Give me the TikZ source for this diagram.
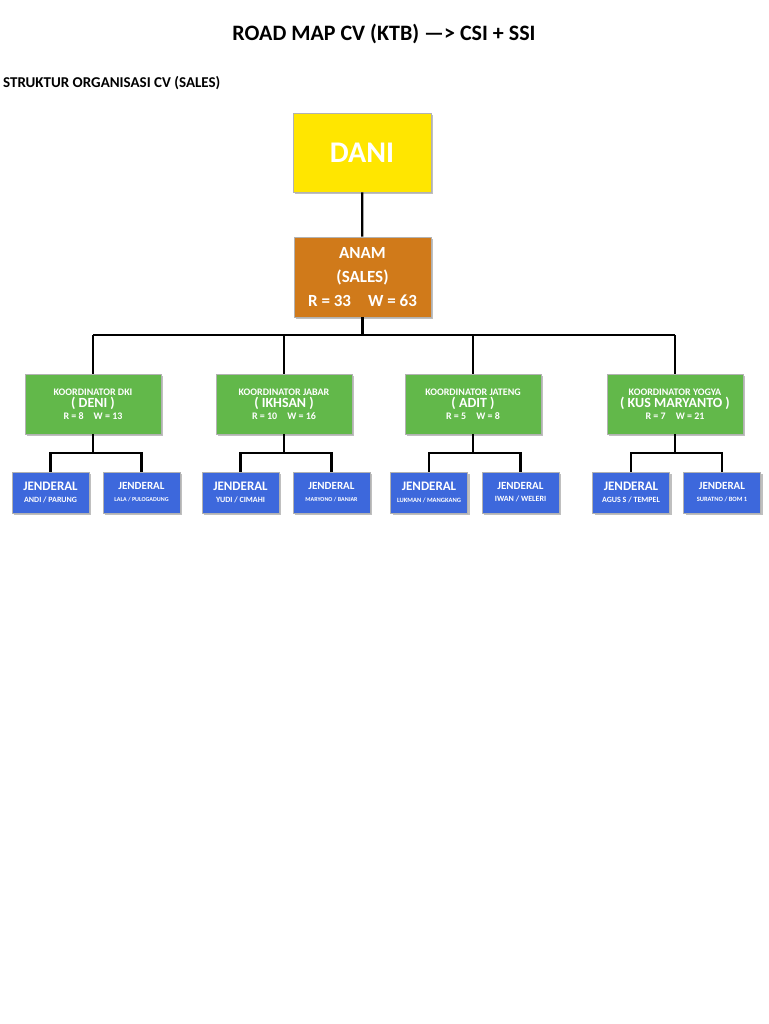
\documentclass[tikz,border=0pt]{standalone}
\usepackage{fontspec}
\setmainfont{Carlito}
\usetikzlibrary{shadows}
\definecolor{yel}{HTML}{FFE600}
\definecolor{ora}{HTML}{D07A1A}
\definecolor{grn}{HTML}{62B84A}
\definecolor{blu}{HTML}{3D68DC}
\begin{document}
\begin{tikzpicture}[x=1pt,y=-1pt,
 box/.style={draw=gray!60,line width=0.6pt,drop shadow={shadow xshift=2pt,shadow yshift=-2pt,opacity=0.5},text=white,font=\bfseries,align=center,inner sep=0pt},
 co/.style={box,fill=grn,minimum width=136pt,minimum height=60pt},
 je/.style={box,fill=blu,minimum width=77pt,minimum height=41pt},
 ln/.style={line width=2.2pt}]
\fill[white] (0,0) rectangle (768,1024);
\node[font=\bfseries\fontsize{22}{26}\selectfont] (t) at (384,34) {ROAD MAP CV (KTB) ---> CSI + SSI};
\node[font=\bfseries\fontsize{15}{18}\selectfont,anchor=west,inner sep=0pt] (s) at (3,83) {STRUKTUR ORGANISASI CV (SALES)};
\node[box,fill=yel,minimum width=138pt,minimum height=79pt,font=\bfseries\fontsize{30}{34}\selectfont] (dani) at (362,152.5) {DANI};
\node[box,fill=ora,minimum width=137pt,minimum height=80pt,font=\bfseries\fontsize{17}{24}\selectfont] (anam) at (362.5,277) {ANAM\\(SALES)\\R = 33\quad W = 63};
\draw[ln] (dani) -- (anam);
\foreach \n/\x/\t/\p/\r in {dki/93/DKI/( DENI )/{R = 8\quad W = 13},jab/284/JABAR/( IKHSAN )/{R = 10\quad W = 16},jat/473/JATENG/( ADIT )/{R = 5\quad W = 8},yog/675/YOGYA/( KUS MARYANTO )/{R = 7\quad W = 21}}{
 \node[co] (\n) at (\x,404) {{\fontsize{10}{14}\selectfont KOORDINATOR \t}\\{\fontsize{14}{17}\selectfont \p}\\{\fontsize{10}{15}\selectfont \r}};
 \coordinate (\n t) at (\x,335);
 \draw[ln] (\n t) -- (\n.north);
 \coordinate (\n s) at (\x,453);
 \draw[ln] (\n.south) -- (\n s);
}
\coordinate (b) at (362.5,335);
\draw[ln] (anam.south) -- (b);
\draw[ln] (dkit) -- (yogt);
\foreach \n/\x/\nm/\fs/\js in {
 a/50.5/{ANDI / PARUNG}/8/13,
 b/141.5/{LALA / PULOGADUNG}/6/11,
 c/240.5/{YUDI / CIMAHI}/8/13,
 d/331.5/{MARYONO / BANJAR}/6/11,
 e/429/{LUKMAN / MANGKANG}/6.5/13,
 f/520.5/{IWAN / WELERI}/8/11,
 g/631/{AGUS S / TEMPEL}/8/13,
 h/722/{SURATNO / BOM 1}/6.5/11}{
 \node[je] (\n) at (\x,492.5) {{\fontsize{\js}{14}\selectfont JENDERAL}\\{\fontsize{\fs}{12}\selectfont \nm}};
}
\foreach \u/\v/\q in {a/b/dki,c/d/jab,e/f/jat,g/h/yog}{
 \draw[ln] (\u.north) |- (\q s) -| (\v.north);
}
\end{tikzpicture}
\end{document}
